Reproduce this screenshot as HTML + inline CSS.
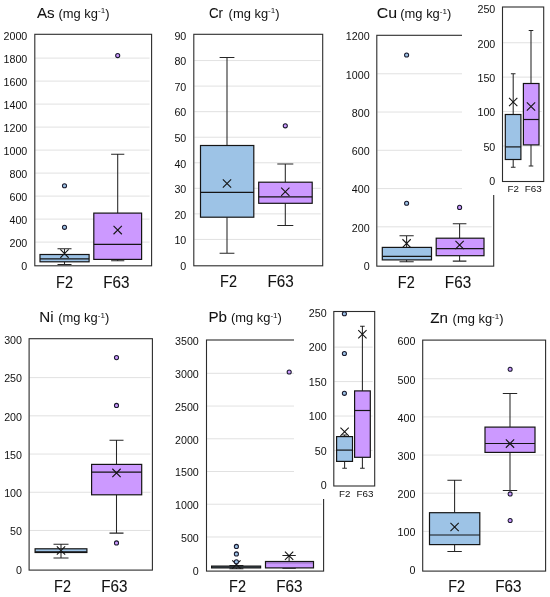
<!DOCTYPE html>
<html><head><meta charset="utf-8"><title>Boxplots</title>
<style>html,body{margin:0;padding:0;background:#fff}svg{display:block}text{font-family:"Liberation Sans",sans-serif}</style></head>
<body>
<svg width="550" height="597" viewBox="0 0 550 597">
<rect width="550" height="597" fill="#fff"/>
<line x1="35.3" x2="149.6" y1="58.10" y2="58.10" stroke="#dcdcdc" stroke-width="0.85"/>
<line x1="35.3" x2="149.6" y1="81.10" y2="81.10" stroke="#dcdcdc" stroke-width="0.85"/>
<line x1="35.3" x2="149.6" y1="104.10" y2="104.10" stroke="#dcdcdc" stroke-width="0.85"/>
<line x1="35.3" x2="149.6" y1="127.10" y2="127.10" stroke="#dcdcdc" stroke-width="0.85"/>
<line x1="35.3" x2="149.6" y1="150.10" y2="150.10" stroke="#dcdcdc" stroke-width="0.85"/>
<line x1="35.3" x2="149.6" y1="173.10" y2="173.10" stroke="#dcdcdc" stroke-width="0.85"/>
<line x1="35.3" x2="149.6" y1="196.10" y2="196.10" stroke="#dcdcdc" stroke-width="0.85"/>
<line x1="35.3" x2="149.6" y1="219.10" y2="219.10" stroke="#dcdcdc" stroke-width="0.85"/>
<line x1="35.3" x2="149.6" y1="242.10" y2="242.10" stroke="#dcdcdc" stroke-width="0.85"/>
<text transform="translate(27.30 39.90) scale(1.04 1)" font-size="10.3" text-anchor="end" fill="#111">2000</text>
<text transform="translate(27.30 62.90) scale(1.04 1)" font-size="10.3" text-anchor="end" fill="#111">1800</text>
<text transform="translate(27.30 85.90) scale(1.04 1)" font-size="10.3" text-anchor="end" fill="#111">1600</text>
<text transform="translate(27.30 108.90) scale(1.04 1)" font-size="10.3" text-anchor="end" fill="#111">1400</text>
<text transform="translate(27.30 131.90) scale(1.04 1)" font-size="10.3" text-anchor="end" fill="#111">1200</text>
<text transform="translate(27.30 154.90) scale(1.04 1)" font-size="10.3" text-anchor="end" fill="#111">1000</text>
<text transform="translate(27.30 177.90) scale(1.04 1)" font-size="10.3" text-anchor="end" fill="#111">800</text>
<text transform="translate(27.30 200.90) scale(1.04 1)" font-size="10.3" text-anchor="end" fill="#111">600</text>
<text transform="translate(27.30 223.90) scale(1.04 1)" font-size="10.3" text-anchor="end" fill="#111">400</text>
<text transform="translate(27.30 246.90) scale(1.04 1)" font-size="10.3" text-anchor="end" fill="#111">200</text>
<text transform="translate(27.30 269.90) scale(1.04 1)" font-size="10.3" text-anchor="end" fill="#111">0</text>
<rect x="34.8" y="34.3" width="116.8" height="231.5" fill="none" stroke="#2c2c2c" stroke-width="1.1"/>
<path d="M64.5 248.7V254.5M64.5 261.8V264.5M57.5 248.7H71.5M57.5 264.5H71.5" stroke="#262626" stroke-width="1.05" fill="none"/>
<rect x="40" y="254.5" width="49.10" height="7.30" fill="#9dc3e6" stroke="#151515" stroke-width="1.2"/>
<line x1="40" x2="89.1" y1="258.8" y2="258.8" stroke="#151515" stroke-width="1.2" stroke-opacity="1"/>
<path d="M60.35 249.45L68.65 257.75M60.35 257.75L68.65 249.45" stroke="#151515" stroke-width="1.1" fill="none"/>
<circle cx="64.5" cy="185.7" r="2.05" fill="#9dc3e6" stroke="#1a1a2e" stroke-width="1.05"/>
<circle cx="64.5" cy="227.3" r="2.05" fill="#9dc3e6" stroke="#1a1a2e" stroke-width="1.05"/>
<path d="M117.7 154.3V213.1M117.7 259.4V260.8M111.10000000000001 154.3H124.3M111.10000000000001 260.8H124.3" stroke="#262626" stroke-width="1.05" fill="none"/>
<rect x="93.8" y="213.1" width="47.80" height="46.30" fill="#cc99ff" stroke="#151515" stroke-width="1.2"/>
<line x1="93.8" x2="141.6" y1="244.3" y2="244.3" stroke="#151515" stroke-width="1.2" stroke-opacity="1"/>
<path d="M113.55 225.95L121.85000000000001 234.25M113.55 234.25L121.85000000000001 225.95" stroke="#151515" stroke-width="1.1" fill="none"/>
<circle cx="117.7" cy="55.6" r="2.05" fill="#cc99ff" stroke="#1a1a2e" stroke-width="1.05"/>
<text transform="translate(37.00 17.60) scale(0.98 1)" font-size="15.5" text-anchor="start" fill="#111" stroke="#111" stroke-width="0.06">As</text>
<text x="58.50" y="17.60" font-size="12" fill="#111" textLength="51" lengthAdjust="spacingAndGlyphs">(mg kg<tspan font-size="7.5" dy="-4.5">-1</tspan><tspan dy="4.5">)</tspan></text>
<text transform="translate(64.50 287.50) scale(0.875 1)" font-size="16.5" text-anchor="middle" fill="#111" stroke="#111" stroke-width="0.1">F2</text>
<text transform="translate(116.40 287.50) scale(0.925 1)" font-size="16.5" text-anchor="middle" fill="#111" stroke="#111" stroke-width="0.1">F63</text>
<line x1="194.3" x2="320.7" y1="60.56" y2="60.56" stroke="#dcdcdc" stroke-width="0.85"/>
<line x1="194.3" x2="320.7" y1="86.11" y2="86.11" stroke="#dcdcdc" stroke-width="0.85"/>
<line x1="194.3" x2="320.7" y1="111.67" y2="111.67" stroke="#dcdcdc" stroke-width="0.85"/>
<line x1="194.3" x2="320.7" y1="137.22" y2="137.22" stroke="#dcdcdc" stroke-width="0.85"/>
<line x1="194.3" x2="320.7" y1="162.78" y2="162.78" stroke="#dcdcdc" stroke-width="0.85"/>
<line x1="194.3" x2="320.7" y1="188.33" y2="188.33" stroke="#dcdcdc" stroke-width="0.85"/>
<line x1="194.3" x2="320.7" y1="213.89" y2="213.89" stroke="#dcdcdc" stroke-width="0.85"/>
<line x1="194.3" x2="320.7" y1="239.44" y2="239.44" stroke="#dcdcdc" stroke-width="0.85"/>
<text transform="translate(186.30 39.80) scale(1.04 1)" font-size="10.3" text-anchor="end" fill="#111">90</text>
<text transform="translate(186.30 65.36) scale(1.04 1)" font-size="10.3" text-anchor="end" fill="#111">80</text>
<text transform="translate(186.30 90.91) scale(1.04 1)" font-size="10.3" text-anchor="end" fill="#111">70</text>
<text transform="translate(186.30 116.47) scale(1.04 1)" font-size="10.3" text-anchor="end" fill="#111">60</text>
<text transform="translate(186.30 142.02) scale(1.04 1)" font-size="10.3" text-anchor="end" fill="#111">50</text>
<text transform="translate(186.30 167.58) scale(1.04 1)" font-size="10.3" text-anchor="end" fill="#111">40</text>
<text transform="translate(186.30 193.13) scale(1.04 1)" font-size="10.3" text-anchor="end" fill="#111">30</text>
<text transform="translate(186.30 218.69) scale(1.04 1)" font-size="10.3" text-anchor="end" fill="#111">20</text>
<text transform="translate(186.30 244.24) scale(1.04 1)" font-size="10.3" text-anchor="end" fill="#111">10</text>
<text transform="translate(186.30 269.80) scale(1.04 1)" font-size="10.3" text-anchor="end" fill="#111">0</text>
<rect x="193.8" y="34.3" width="128.89999999999998" height="231.5" fill="none" stroke="#2c2c2c" stroke-width="1.1"/>
<path d="M227 57.5V145.5M227 217.2V253.3M219.6 57.5H234.4M219.6 253.3H234.4" stroke="#262626" stroke-width="1.05" fill="none"/>
<rect x="200.5" y="145.5" width="53.30" height="71.70" fill="#9dc3e6" stroke="#151515" stroke-width="1.2"/>
<line x1="200.5" x2="253.8" y1="192.4" y2="192.4" stroke="#151515" stroke-width="1.2" stroke-opacity="1"/>
<path d="M222.85 179.35L231.15 187.65M222.85 187.65L231.15 179.35" stroke="#151515" stroke-width="1.1" fill="none"/>
<path d="M285.3 164V182.2M285.3 203.3V225.5M277.3 164H293.3M277.3 225.5H293.3" stroke="#262626" stroke-width="1.05" fill="none"/>
<rect x="258.7" y="182.2" width="53.50" height="21.10" fill="#cc99ff" stroke="#151515" stroke-width="1.2"/>
<line x1="258.7" x2="312.2" y1="196.8" y2="196.8" stroke="#151515" stroke-width="1.2" stroke-opacity="1"/>
<path d="M281.15000000000003 187.65L289.45 195.95000000000002M281.15000000000003 195.95000000000002L289.45 187.65" stroke="#151515" stroke-width="1.1" fill="none"/>
<circle cx="285.3" cy="125.8" r="2.05" fill="#cc99ff" stroke="#1a1a2e" stroke-width="1.05"/>
<text transform="translate(209.00 17.90) scale(0.86 1)" font-size="15.5" text-anchor="start" fill="#111" stroke="#111" stroke-width="0.06">Cr</text>
<text x="228.60" y="17.90" font-size="12" fill="#111" textLength="51" lengthAdjust="spacingAndGlyphs">(mg kg<tspan font-size="7.5" dy="-4.5">-1</tspan><tspan dy="4.5">)</tspan></text>
<text transform="translate(228.50 287.40) scale(0.875 1)" font-size="16.5" text-anchor="middle" fill="#111" stroke="#111" stroke-width="0.1">F2</text>
<text transform="translate(280.60 287.40) scale(0.925 1)" font-size="16.5" text-anchor="middle" fill="#111" stroke="#111" stroke-width="0.1">F63</text>
<line x1="377.3" x2="491.7" y1="73.77" y2="73.77" stroke="#dcdcdc" stroke-width="0.85"/>
<line x1="377.3" x2="491.7" y1="112.03" y2="112.03" stroke="#dcdcdc" stroke-width="0.85"/>
<line x1="377.3" x2="491.7" y1="150.30" y2="150.30" stroke="#dcdcdc" stroke-width="0.85"/>
<line x1="377.3" x2="491.7" y1="188.57" y2="188.57" stroke="#dcdcdc" stroke-width="0.85"/>
<line x1="377.3" x2="491.7" y1="226.83" y2="226.83" stroke="#dcdcdc" stroke-width="0.85"/>
<text transform="translate(369.60 40.30) scale(1.04 1)" font-size="10.3" text-anchor="end" fill="#111">1200</text>
<text transform="translate(369.60 78.57) scale(1.04 1)" font-size="10.3" text-anchor="end" fill="#111">1000</text>
<text transform="translate(369.60 116.83) scale(1.04 1)" font-size="10.3" text-anchor="end" fill="#111">800</text>
<text transform="translate(369.60 155.10) scale(1.04 1)" font-size="10.3" text-anchor="end" fill="#111">600</text>
<text transform="translate(369.60 193.37) scale(1.04 1)" font-size="10.3" text-anchor="end" fill="#111">400</text>
<text transform="translate(369.60 231.63) scale(1.04 1)" font-size="10.3" text-anchor="end" fill="#111">200</text>
<text transform="translate(369.60 269.90) scale(1.04 1)" font-size="10.3" text-anchor="end" fill="#111">0</text>
<rect x="376.8" y="35.3" width="116.89999999999998" height="230.84999999999997" fill="none" stroke="#2c2c2c" stroke-width="1.1"/>
<path d="M406.6 235.8V247.4M406.6 259.9V261.8M399.5 235.8H413.70000000000005M399.5 261.8H413.70000000000005" stroke="#262626" stroke-width="1.05" fill="none"/>
<rect x="382.3" y="247.4" width="49.20" height="12.50" fill="#9dc3e6" stroke="#151515" stroke-width="1.2"/>
<line x1="382.3" x2="431.5" y1="256.4" y2="256.4" stroke="#151515" stroke-width="1.2" stroke-opacity="1"/>
<path d="M402.45000000000005 239.25L410.75 247.55M402.45000000000005 247.55L410.75 239.25" stroke="#151515" stroke-width="1.1" fill="none"/>
<circle cx="406.6" cy="55" r="2.05" fill="#9dc3e6" stroke="#1a1a2e" stroke-width="1.05"/>
<circle cx="406.6" cy="203.2" r="2.05" fill="#9dc3e6" stroke="#1a1a2e" stroke-width="1.05"/>
<path d="M459.6 223.7V238.2M459.6 255.7V261.1M452.8 223.7H466.40000000000003M452.8 261.1H466.40000000000003" stroke="#262626" stroke-width="1.05" fill="none"/>
<rect x="436.2" y="238.2" width="47.80" height="17.50" fill="#cc99ff" stroke="#151515" stroke-width="1.2"/>
<line x1="436.2" x2="484" y1="248.6" y2="248.6" stroke="#151515" stroke-width="1.2" stroke-opacity="1"/>
<path d="M455.45000000000005 240.85L463.75 249.15M455.45000000000005 249.15L463.75 240.85" stroke="#151515" stroke-width="1.1" fill="none"/>
<circle cx="459.6" cy="207.4" r="2.05" fill="#cc99ff" stroke="#1a1a2e" stroke-width="1.05"/>
<text transform="translate(376.80 18.40) scale(1.03 1)" font-size="15.5" text-anchor="start" fill="#111" stroke="#111" stroke-width="0.06">Cu</text>
<text x="400.30" y="18.40" font-size="12" fill="#111" textLength="51" lengthAdjust="spacingAndGlyphs">(mg kg<tspan font-size="7.5" dy="-4.5">-1</tspan><tspan dy="4.5">)</tspan></text>
<text transform="translate(406.30 287.50) scale(0.875 1)" font-size="16.5" text-anchor="middle" fill="#111" stroke="#111" stroke-width="0.1">F2</text>
<text transform="translate(458.00 287.50) scale(0.925 1)" font-size="16.5" text-anchor="middle" fill="#111" stroke="#111" stroke-width="0.1">F63</text>
<rect x="462" y="0" width="88" height="195" fill="#fff"/>
<line x1="503.0" x2="541.7" y1="42.72" y2="42.72" stroke="#dcdcdc" stroke-width="0.85"/>
<line x1="503.0" x2="541.7" y1="77.14" y2="77.14" stroke="#dcdcdc" stroke-width="0.85"/>
<line x1="503.0" x2="541.7" y1="111.56" y2="111.56" stroke="#dcdcdc" stroke-width="0.85"/>
<line x1="503.0" x2="541.7" y1="145.98" y2="145.98" stroke="#dcdcdc" stroke-width="0.85"/>
<text transform="translate(495.30 13.10) scale(1.04 1)" font-size="10.3" text-anchor="end" fill="#111">250</text>
<text transform="translate(495.30 47.52) scale(1.04 1)" font-size="10.3" text-anchor="end" fill="#111">200</text>
<text transform="translate(495.30 81.94) scale(1.04 1)" font-size="10.3" text-anchor="end" fill="#111">150</text>
<text transform="translate(495.30 116.36) scale(1.04 1)" font-size="10.3" text-anchor="end" fill="#111">100</text>
<text transform="translate(495.30 150.78) scale(1.04 1)" font-size="10.3" text-anchor="end" fill="#111">50</text>
<text transform="translate(495.30 185.20) scale(1.04 1)" font-size="10.3" text-anchor="end" fill="#111">0</text>
<rect x="502.5" y="7.0" width="41.200000000000045" height="174.5" fill="none" stroke="#2c2c2c" stroke-width="1.1"/>
<path d="M513.2 73.8V114.5M513.2 159.5V167.3M510.90000000000003 73.8H515.5M510.90000000000003 167.3H515.5" stroke="#262626" stroke-width="1.05" fill="none"/>
<rect x="505.3" y="114.5" width="15.60" height="45.00" fill="#9dc3e6" stroke="#151515" stroke-width="1.2"/>
<line x1="505.3" x2="520.9" y1="146.9" y2="146.9" stroke="#151515" stroke-width="1.2" stroke-opacity="1"/>
<path d="M509.05000000000007 97.85L517.35 106.15M509.05000000000007 106.15L517.35 97.85" stroke="#151515" stroke-width="1.1" fill="none"/>
<path d="M531 30.4V83.5M531 144.9V166M528.7 30.4H533.3M528.7 166H533.3" stroke="#262626" stroke-width="1.05" fill="none"/>
<rect x="523.4" y="83.5" width="15.60" height="61.40" fill="#cc99ff" stroke="#151515" stroke-width="1.2"/>
<line x1="523.4" x2="539" y1="119.5" y2="119.5" stroke="#151515" stroke-width="1.2" stroke-opacity="1"/>
<path d="M526.85 102.35L535.15 110.65M526.85 110.65L535.15 102.35" stroke="#151515" stroke-width="1.1" fill="none"/>
<text transform="translate(513.30 192.20) scale(1.03 1)" font-size="9.5" text-anchor="middle" fill="#111">F2</text>
<text transform="translate(533.20 192.20) scale(1.04 1)" font-size="9.5" text-anchor="middle" fill="#111">F63</text>
<line x1="29.6" x2="150.4" y1="377.62" y2="377.62" stroke="#dcdcdc" stroke-width="0.85"/>
<line x1="29.6" x2="150.4" y1="415.83" y2="415.83" stroke="#dcdcdc" stroke-width="0.85"/>
<line x1="29.6" x2="150.4" y1="454.05" y2="454.05" stroke="#dcdcdc" stroke-width="0.85"/>
<line x1="29.6" x2="150.4" y1="492.27" y2="492.27" stroke="#dcdcdc" stroke-width="0.85"/>
<line x1="29.6" x2="150.4" y1="530.48" y2="530.48" stroke="#dcdcdc" stroke-width="0.85"/>
<text transform="translate(22.00 344.20) scale(1.04 1)" font-size="10.3" text-anchor="end" fill="#111">300</text>
<text transform="translate(22.00 382.42) scale(1.04 1)" font-size="10.3" text-anchor="end" fill="#111">250</text>
<text transform="translate(22.00 420.63) scale(1.04 1)" font-size="10.3" text-anchor="end" fill="#111">200</text>
<text transform="translate(22.00 458.85) scale(1.04 1)" font-size="10.3" text-anchor="end" fill="#111">150</text>
<text transform="translate(22.00 497.07) scale(1.04 1)" font-size="10.3" text-anchor="end" fill="#111">100</text>
<text transform="translate(22.00 535.28) scale(1.04 1)" font-size="10.3" text-anchor="end" fill="#111">50</text>
<text transform="translate(22.00 573.50) scale(1.04 1)" font-size="10.3" text-anchor="end" fill="#111">0</text>
<rect x="29.1" y="338.7" width="123.30000000000001" height="231.40000000000003" fill="none" stroke="#2c2c2c" stroke-width="1.1"/>
<path d="M61 544.3V548.8M61 552.5V558M53.5 544.3H68.5M53.5 558H68.5" stroke="#262626" stroke-width="1.05" fill="none"/>
<rect x="35.1" y="548.8" width="51.80" height="3.70" fill="#9dc3e6" stroke="#151515" stroke-width="1.2"/>
<line x1="35.1" x2="86.9" y1="551.8" y2="551.8" stroke="#151515" stroke-width="1.2" stroke-opacity="1"/>
<path d="M56.85 546.35L65.15 554.65M56.85 554.65L65.15 546.35" stroke="#151515" stroke-width="1.1" fill="none"/>
<path d="M116.5 440.3V464.4M116.5 494.8V533.1M109.5 440.3H123.5M109.5 533.1H123.5" stroke="#262626" stroke-width="1.05" fill="none"/>
<rect x="91.6" y="464.4" width="50.10" height="30.40" fill="#cc99ff" stroke="#151515" stroke-width="1.2"/>
<line x1="91.6" x2="141.7" y1="472.2" y2="472.2" stroke="#151515" stroke-width="1.2" stroke-opacity="1"/>
<path d="M112.35 468.75L120.65 477.04999999999995M112.35 477.04999999999995L120.65 468.75" stroke="#151515" stroke-width="1.1" fill="none"/>
<circle cx="116.5" cy="357.6" r="2.05" fill="#cc99ff" stroke="#1a1a2e" stroke-width="1.05"/>
<circle cx="116.5" cy="405.4" r="2.05" fill="#cc99ff" stroke="#1a1a2e" stroke-width="1.05"/>
<circle cx="116.5" cy="542.9" r="2.05" fill="#cc99ff" stroke="#1a1a2e" stroke-width="1.05"/>
<text transform="translate(39.30 322.30) scale(0.98 1)" font-size="15.5" text-anchor="start" fill="#111" stroke="#111" stroke-width="0.06">Ni</text>
<text x="58.20" y="322.30" font-size="12" fill="#111" textLength="51" lengthAdjust="spacingAndGlyphs">(mg kg<tspan font-size="7.5" dy="-4.5">-1</tspan><tspan dy="4.5">)</tspan></text>
<text transform="translate(62.50 591.90) scale(0.875 1)" font-size="16.5" text-anchor="middle" fill="#111" stroke="#111" stroke-width="0.1">F2</text>
<text transform="translate(114.40 591.90) scale(0.925 1)" font-size="16.5" text-anchor="middle" fill="#111" stroke="#111" stroke-width="0.1">F63</text>
<line x1="207.0" x2="321.6" y1="373.33" y2="373.33" stroke="#dcdcdc" stroke-width="0.85"/>
<line x1="207.0" x2="321.6" y1="406.06" y2="406.06" stroke="#dcdcdc" stroke-width="0.85"/>
<line x1="207.0" x2="321.6" y1="438.79" y2="438.79" stroke="#dcdcdc" stroke-width="0.85"/>
<line x1="207.0" x2="321.6" y1="471.51" y2="471.51" stroke="#dcdcdc" stroke-width="0.85"/>
<line x1="207.0" x2="321.6" y1="504.24" y2="504.24" stroke="#dcdcdc" stroke-width="0.85"/>
<line x1="207.0" x2="321.6" y1="536.97" y2="536.97" stroke="#dcdcdc" stroke-width="0.85"/>
<text transform="translate(198.80 345.40) scale(1.04 1)" font-size="10.3" text-anchor="end" fill="#111">3500</text>
<text transform="translate(198.80 378.13) scale(1.04 1)" font-size="10.3" text-anchor="end" fill="#111">3000</text>
<text transform="translate(198.80 410.86) scale(1.04 1)" font-size="10.3" text-anchor="end" fill="#111">2500</text>
<text transform="translate(198.80 443.59) scale(1.04 1)" font-size="10.3" text-anchor="end" fill="#111">2000</text>
<text transform="translate(198.80 476.31) scale(1.04 1)" font-size="10.3" text-anchor="end" fill="#111">1500</text>
<text transform="translate(198.80 509.04) scale(1.04 1)" font-size="10.3" text-anchor="end" fill="#111">1000</text>
<text transform="translate(198.80 541.77) scale(1.04 1)" font-size="10.3" text-anchor="end" fill="#111">500</text>
<text transform="translate(198.80 574.50) scale(1.04 1)" font-size="10.3" text-anchor="end" fill="#111">0</text>
<rect x="206.5" y="340.0" width="117.10000000000002" height="231.10000000000002" fill="none" stroke="#2c2c2c" stroke-width="1.1"/>
<path d="M236.4 565.6V566.1M236.4 567.9V568.7M229.4 565.6H243.4M229.4 568.7H243.4" stroke="#262626" stroke-width="1.05" fill="none"/>
<rect x="211.6" y="566.1" width="49.00" height="1.80" fill="#9dc3e6" stroke="#151515" stroke-width="1.2"/>
<line x1="211.6" x2="260.6" y1="567" y2="567" stroke="#151515" stroke-width="1.2" stroke-opacity="1"/>
<path d="M232.25 560.35L240.55 568.65M232.25 568.65L240.55 560.35" stroke="#151515" stroke-width="1.1" fill="none"/>
<circle cx="236.4" cy="546.4" r="2.05" fill="#9dc3e6" stroke="#1a1a2e" stroke-width="1.05"/>
<circle cx="236.4" cy="553.9" r="2.05" fill="#9dc3e6" stroke="#1a1a2e" stroke-width="1.05"/>
<circle cx="236.4" cy="561.7" r="2.05" fill="#9dc3e6" stroke="#1a1a2e" stroke-width="1.05"/>
<path d="M289.1 555.4V561.5M289.1 567.9V568.2M282.40000000000003 555.4H295.8M282.40000000000003 568.2H295.8" stroke="#262626" stroke-width="1.05" fill="none"/>
<rect x="265.5" y="561.5" width="48.00" height="6.40" fill="#cc99ff" stroke="#151515" stroke-width="1.2"/>
<line x1="265.5" x2="313.5" y1="563" y2="563" stroke="#151515" stroke-width="1.2" stroke-opacity="0.3"/>
<path d="M284.95000000000005 551.5500000000001L293.25 559.85M284.95000000000005 559.85L293.25 551.5500000000001" stroke="#151515" stroke-width="1.1" fill="none"/>
<circle cx="289.2" cy="372" r="2.05" fill="#cc99ff" stroke="#1a1a2e" stroke-width="1.05"/>
<text transform="translate(208.40 322.40) scale(0.98 1)" font-size="15.5" text-anchor="start" fill="#111" stroke="#111" stroke-width="0.06">Pb</text>
<text x="230.90" y="322.40" font-size="12" fill="#111" textLength="51" lengthAdjust="spacingAndGlyphs">(mg kg<tspan font-size="7.5" dy="-4.5">-1</tspan><tspan dy="4.5">)</tspan></text>
<text transform="translate(237.50 591.90) scale(0.875 1)" font-size="16.5" text-anchor="middle" fill="#111" stroke="#111" stroke-width="0.1">F2</text>
<text transform="translate(289.40 591.90) scale(0.925 1)" font-size="16.5" text-anchor="middle" fill="#111" stroke="#111" stroke-width="0.1">F63</text>
<rect x="294" y="300" width="90" height="199" fill="#fff"/>
<line x1="334.3" x2="372.7" y1="347.14" y2="347.14" stroke="#dcdcdc" stroke-width="0.85"/>
<line x1="334.3" x2="372.7" y1="381.58" y2="381.58" stroke="#dcdcdc" stroke-width="0.85"/>
<line x1="334.3" x2="372.7" y1="416.02" y2="416.02" stroke="#dcdcdc" stroke-width="0.85"/>
<line x1="334.3" x2="372.7" y1="450.46" y2="450.46" stroke="#dcdcdc" stroke-width="0.85"/>
<text transform="translate(326.60 316.80) scale(1.04 1)" font-size="10.3" text-anchor="end" fill="#111">250</text>
<text transform="translate(326.60 351.24) scale(1.04 1)" font-size="10.3" text-anchor="end" fill="#111">200</text>
<text transform="translate(326.60 385.68) scale(1.04 1)" font-size="10.3" text-anchor="end" fill="#111">150</text>
<text transform="translate(326.60 420.12) scale(1.04 1)" font-size="10.3" text-anchor="end" fill="#111">100</text>
<text transform="translate(326.60 454.56) scale(1.04 1)" font-size="10.3" text-anchor="end" fill="#111">50</text>
<text transform="translate(326.60 489.00) scale(1.04 1)" font-size="10.3" text-anchor="end" fill="#111">0</text>
<rect x="333.8" y="311.5" width="40.89999999999998" height="174.5" fill="none" stroke="#2c2c2c" stroke-width="1.1"/>
<path d="M344.6 434.9V436.6M344.6 461.4V468.2M342.3 434.9H346.90000000000003M342.3 468.2H346.90000000000003" stroke="#262626" stroke-width="1.05" fill="none"/>
<rect x="336.6" y="436.6" width="15.90" height="24.80" fill="#9dc3e6" stroke="#151515" stroke-width="1.2"/>
<line x1="336.6" x2="352.5" y1="450.1" y2="450.1" stroke="#151515" stroke-width="1.2" stroke-opacity="1"/>
<path d="M340.45000000000005 427.65000000000003L348.75 435.95M340.45000000000005 435.95L348.75 427.65000000000003" stroke="#151515" stroke-width="1.1" fill="none"/>
<circle cx="344.4" cy="313.7" r="2.05" fill="#9dc3e6" stroke="#1a1a2e" stroke-width="1.05"/>
<circle cx="344.4" cy="353.5" r="2.05" fill="#9dc3e6" stroke="#1a1a2e" stroke-width="1.05"/>
<circle cx="344.4" cy="393.3" r="2.05" fill="#9dc3e6" stroke="#1a1a2e" stroke-width="1.05"/>
<path d="M362.4 326.2V390.9M362.4 457.3V468.2M360.09999999999997 326.2H364.7M360.09999999999997 468.2H364.7" stroke="#262626" stroke-width="1.05" fill="none"/>
<rect x="354.6" y="390.9" width="15.70" height="66.40" fill="#cc99ff" stroke="#151515" stroke-width="1.2"/>
<line x1="354.6" x2="370.3" y1="410.5" y2="410.5" stroke="#151515" stroke-width="1.2" stroke-opacity="1"/>
<path d="M358.25 330.05L366.54999999999995 338.34999999999997M358.25 338.34999999999997L366.54999999999995 330.05" stroke="#151515" stroke-width="1.1" fill="none"/>
<text transform="translate(344.70 497.40) scale(1.03 1)" font-size="9.5" text-anchor="middle" fill="#111">F2</text>
<text transform="translate(365.00 497.40) scale(1.04 1)" font-size="9.5" text-anchor="middle" fill="#111">F63</text>
<line x1="423.2" x2="543.6" y1="378.75" y2="378.75" stroke="#dcdcdc" stroke-width="0.85"/>
<line x1="423.2" x2="543.6" y1="416.90" y2="416.90" stroke="#dcdcdc" stroke-width="0.85"/>
<line x1="423.2" x2="543.6" y1="455.05" y2="455.05" stroke="#dcdcdc" stroke-width="0.85"/>
<line x1="423.2" x2="543.6" y1="493.20" y2="493.20" stroke="#dcdcdc" stroke-width="0.85"/>
<line x1="423.2" x2="543.6" y1="531.35" y2="531.35" stroke="#dcdcdc" stroke-width="0.85"/>
<text transform="translate(415.40 345.40) scale(1.04 1)" font-size="10.3" text-anchor="end" fill="#111">600</text>
<text transform="translate(415.40 383.55) scale(1.04 1)" font-size="10.3" text-anchor="end" fill="#111">500</text>
<text transform="translate(415.40 421.70) scale(1.04 1)" font-size="10.3" text-anchor="end" fill="#111">400</text>
<text transform="translate(415.40 459.85) scale(1.04 1)" font-size="10.3" text-anchor="end" fill="#111">300</text>
<text transform="translate(415.40 498.00) scale(1.04 1)" font-size="10.3" text-anchor="end" fill="#111">200</text>
<text transform="translate(415.40 536.15) scale(1.04 1)" font-size="10.3" text-anchor="end" fill="#111">100</text>
<text transform="translate(415.40 574.30) scale(1.04 1)" font-size="10.3" text-anchor="end" fill="#111">0</text>
<rect x="422.7" y="340.1" width="122.90000000000003" height="231.0" fill="none" stroke="#2c2c2c" stroke-width="1.1"/>
<path d="M454.6 480.3V512.7M454.6 544.6V551.4M447.40000000000003 480.3H461.8M447.40000000000003 551.4H461.8" stroke="#262626" stroke-width="1.05" fill="none"/>
<rect x="429.5" y="512.7" width="50.30" height="31.90" fill="#9dc3e6" stroke="#151515" stroke-width="1.2"/>
<line x1="429.5" x2="479.8" y1="535" y2="535" stroke="#151515" stroke-width="1.2" stroke-opacity="1"/>
<path d="M450.45000000000005 522.85L458.75 531.15M450.45000000000005 531.15L458.75 522.85" stroke="#151515" stroke-width="1.1" fill="none"/>
<path d="M510 393.4V427.1M510 452.4V490.5M502.8 393.4H517.2M502.8 490.5H517.2" stroke="#262626" stroke-width="1.05" fill="none"/>
<rect x="485" y="427.1" width="50.00" height="25.30" fill="#cc99ff" stroke="#151515" stroke-width="1.2"/>
<line x1="485" x2="535" y1="443.5" y2="443.5" stroke="#151515" stroke-width="1.2" stroke-opacity="1"/>
<path d="M505.85 439.45000000000005L514.15 447.75M505.85 447.75L514.15 439.45000000000005" stroke="#151515" stroke-width="1.1" fill="none"/>
<circle cx="510.1" cy="369.2" r="2.05" fill="#cc99ff" stroke="#1a1a2e" stroke-width="1.05"/>
<circle cx="510.1" cy="493.9" r="2.05" fill="#cc99ff" stroke="#1a1a2e" stroke-width="1.05"/>
<circle cx="510.1" cy="520.5" r="2.05" fill="#cc99ff" stroke="#1a1a2e" stroke-width="1.05"/>
<text transform="translate(430.20 323.20) scale(0.98 1)" font-size="15.5" text-anchor="start" fill="#111" stroke="#111" stroke-width="0.06">Zn</text>
<text x="452.60" y="323.20" font-size="12" fill="#111" textLength="51" lengthAdjust="spacingAndGlyphs">(mg kg<tspan font-size="7.5" dy="-4.5">-1</tspan><tspan dy="4.5">)</tspan></text>
<text transform="translate(456.70 592.00) scale(0.875 1)" font-size="16.5" text-anchor="middle" fill="#111" stroke="#111" stroke-width="0.1">F2</text>
<text transform="translate(508.40 592.00) scale(0.925 1)" font-size="16.5" text-anchor="middle" fill="#111" stroke="#111" stroke-width="0.1">F63</text>
</svg>
</body></html>
